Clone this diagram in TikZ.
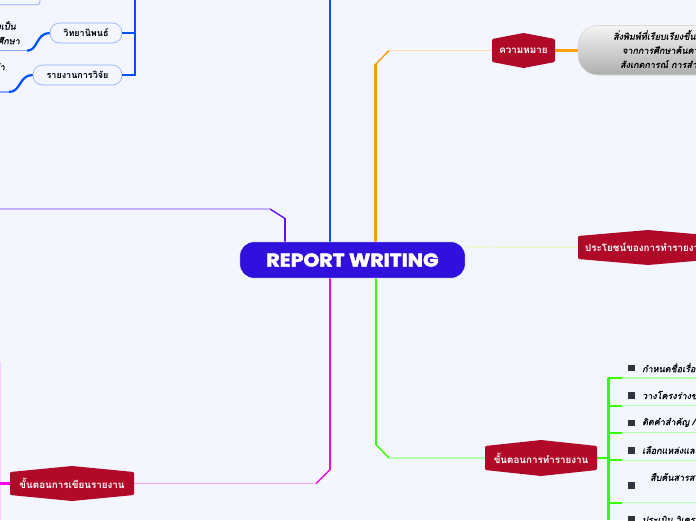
\documentclass[tikz,border=0pt]{standalone}
\usepackage{fontspec}
\newfontfamily\thaifont[Script=Thai]{Loma}
\newfontfamily\thaiit[Script=Thai,FakeSlant=0.2,FakeBold=0.25]{Loma}
\newfontfamily\rwfont[FakeBold=2.5,FakeStretch=1.1]{Poppins Bold}
\definecolor{bgc}{HTML}{F3F6FF}
\definecolor{crim}{HTML}{B00A28}
\definecolor{cen}{HTML}{3010DC}
\definecolor{oran}{HTML}{FF9C0A}
\definecolor{loran}{HTML}{FFDCA8}
\definecolor{purp}{HTML}{6A10FF}
\definecolor{lpurp}{HTML}{C4B0FF}
\definecolor{gree}{HTML}{33FF00}
\definecolor{lgree}{HTML}{B4FFAC}
\definecolor{mage}{HTML}{FF00E6}
\definecolor{lmage}{HTML}{F5A8FF}
\definecolor{lmageb}{HTML}{F9CCFF}
\definecolor{blu}{HTML}{0050FF}
\definecolor{lblu}{HTML}{8AA8FF}
\definecolor{lyel}{HTML}{E8F8C0}
\definecolor{sq}{HTML}{33333F}
\tikzset{
  thick line/.style={line width=2.6pt,line join=miter},
  thin line/.style={line width=1.2pt},
  chamfer/.style={line width=1.4pt},
  hextext/.style={font=\thaifont\bfseries\fontsize{9.8}{12}\selectfont,text=white,inner sep=0pt},
  leaf/.style={font=\thaiit\fontsize{9}{10}\selectfont,text=black,anchor=west,inner sep=0pt},
  subbox/.style={draw=lblu,line width=0.6pt,fill=bgc,rounded corners=9.5pt,font=\thaifont\bfseries\fontsize{9}{12}\selectfont,inner sep=0pt,minimum height=20pt},
  bul/.style={fill=sq,inner sep=0pt,minimum size=6.5pt},
}
\newcommand{\hexa}[5][6]{%
  \fill[crim,rounded corners=1.2pt] ({#2-#4},{#3-#5+#1}) -- (#2,{#3-#5}) -- ({#2+#4},{#3-#5+#1}) -- ({#2+#4},{#3+#5-#1}) -- (#2,{#3+#5}) -- ({#2-#4},{#3+#5-#1}) -- cycle;}
\begin{document}
\begin{tikzpicture}[x=1pt,y=-1pt]
\useasboundingbox (0,0) rectangle (696,520);
\clip (0,0) rectangle (696,520);
\fill[bgc] (0,0) rectangle (696,520);
% named anchors
\coordinate (blueTop) at (330,0);
\coordinate (purpEnd) at (0,209);
\coordinate (subTop) at (135,0);
\coordinate (thinA) at (0,50.7);
\coordinate (thinB) at (0,92);
\coordinate (thinAr) at (27,50.7);
\coordinate (thinBr) at (9,92);
\coordinate (greenBus) at (608.5,378);
\coordinate (greenBot) at (608.5,520);
\coordinate (magBusT) at (0.4,362);
\coordinate (magBusB) at (0.4,520);
\coordinate (magLeft) at (0,483.5);
\node[inner sep=0pt,minimum width=225pt,minimum height=36pt] (central) at (352.5,260) {};
\node[inner sep=0pt,minimum width=63pt,minimum height=35pt] (mean) at (523.5,50.5) {};
\node[inner sep=0pt,minimum width=140pt,minimum height=35pt] (benefit) at (648,247.5) {};
\node[inner sep=0pt,minimum width=112pt,minimum height=36pt] (steps) at (541,458) {};
\node[inner sep=0pt,minimum width=124pt,minimum height=35pt] (write) at (72,483.5) {};
\node[subbox,minimum width=72pt] (thesis) at (86,33) {วิทยานิพนธ์};
\node[subbox,minimum width=89pt] (research) at (77.5,75) {รายงานการวิจัย};
% main branches
\draw[blu,thick line] (blueTop) -- (blueTop |- central.north);
\draw[oran,thick line] (375.5,242) -- (375.5,64);
\draw[oran,chamfer] (375.5,64.5) -- (389,50.5);
\draw[loran,thin line] (389,50.5) -- (mean.west);
\draw[purp,thick line] (285,242) -- (285,218);
\draw[purp,chamfer] (285,218.5) -- (270,209);
\draw[lpurp,thin line] (270,209) -- (purpEnd);
\draw[gree,thick line] (376,278) -- (376,445);
\draw[gree,chamfer] (376,444.5) -- (389,458);
\draw[lgree,thin line] (389,458) -- (steps.west);
\draw[mage,thick line] (330,278) -- (330,470);
\draw[mage,chamfer] (330,469.5) -- (316,483.5);
\draw[lmage,thin line] (316,483.5) -- (write.east);
\draw[lyel,thin line] (central.east |- 0,247) -- (benefit.west);
% central
\fill[cen,draw=white,line width=0.5pt,rounded corners=14pt] (central.south west) rectangle (central.north east);
\node[font=\rwfont\fontsize{18.5}{20}\selectfont,text=white,inner sep=0pt] (centralText) at (central) {REPORT WRITING};
% hexagons
\hexa{523.5}{50.5}{31.5}{17.5}
\node[hextext] at (mean) {ความหมาย};
\hexa{648}{247.5}{70}{17.5}
\node[hextext,anchor=west] at (585,247.5) {ประโยชน์ของการทำรายงาน};
\hexa{541}{458}{56}{18}
\node[hextext] at (steps) {ขั้นตอนการทำรายงาน};
\hexa{72}{483.5}{62}{17.5}
\node[hextext] at (write) {ขั้นตอนการเขียนรายงาน};
% meaning node
\draw[oran,thick line] (mean.east) -- ++(24,0) coordinate (meanBox);
\shade[top color=white!92!gray,bottom color=black!32,draw=black!15,line width=0.6pt,rounded corners=20pt] (578,25.5) rectangle (740,75);
\node[leaf] (m1) at (613,35) {สิ่งพิมพ์ที่เรียบเรียงขึ้น};
\node[leaf] (m2) at (622,50) {จากการศึกษาค้นคว้า};
\node[leaf] (m3) at (620,64) {สังเกตการณ์ การสำ};
% green list
\draw[gree,thick line] (steps.east) -- (greenBus |- steps.east);
\draw[gree,line width=2.8pt] (greenBus) -- (greenBot);
\foreach \yy in {378,405.7,432.7,460.3,502.7}{
  \draw[lgree,thin line] (622,\yy) -- (696,\yy);
  \draw[gree,line width=1.8pt] (607.5,\yy) -- (622,\yy);
}
\node[bul] (b1) at (631.5,368) {};
\node[bul] (b2) at (631.5,395.5) {};
\node[bul] (b3) at (631.5,423) {};
\node[bul] (b4) at (631.5,450.3) {};
\node[bul] (b5) at (631.5,485.5) {};
\node[bul] (b6) at (631.5,519) {};
\node[leaf] (l1) at (642,367.5) {กำหนดชื่อเรื่อง};
\node[leaf] (l2) at (642,395) {วางโครงร่างข};
\node[leaf] (l3) at (642,422.5) {ติดคำสำคัญ /};
\node[leaf] (l4) at (642,450) {เลือกแหล่งและ};
\node[leaf] (l5) at (650,477) {สืบค้นสารสน};
\node[leaf] (l6) at (642,519) {ประเมิน วิเคราะห์};
% blue subtree
\draw[blu,thick line] (subTop) -- (subTop |- research.east) -- (research.east);
\draw[blu,thick line] (thesis.east) -- (subTop |- thesis.east);
\draw[lblu,thin line] (thinAr) -- (thinA);
\draw[lblu,thin line] (thinBr) -- (thinB);
\draw[blu,line width=2.2pt] (thesis.west) .. controls (36,33) and (38,50.7) .. (thinAr);
\draw[blu,line width=2.2pt] (research.west) .. controls (19,75) and (21,92) .. (thinBr);
\draw[lblu,line width=0.8pt,rounded corners=3pt] (-5,4.7) -- (40,4.7) -- (40,-5);
\node[leaf,anchor=east] (t1) at (16,25.5) {งเป็น};
\node[leaf,anchor=east] (t2) at (20,40.5) {ศึกษา};
\node[leaf,anchor=east] (t3) at (5,66.5) {ำ};
% magenta left
\draw[lmageb,line width=0.8pt] (magBusT) -- (magBusB);
\draw[mage,thick line] (magLeft) -- (write.west);
\end{tikzpicture}
\end{document}
